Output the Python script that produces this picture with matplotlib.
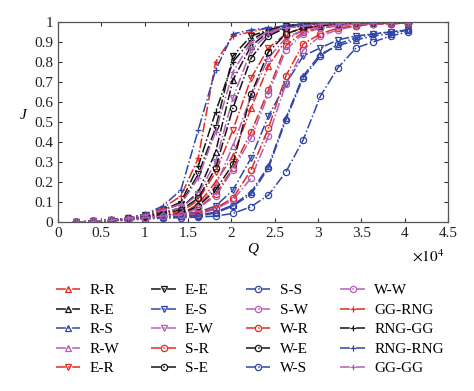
import numpy as np
import matplotlib
matplotlib.use("Agg")
import matplotlib.pyplot as plt
from matplotlib.ticker import FuncFormatter, MultipleLocator

plt.rcParams["font.family"] = ["Liberation Serif", "DejaVu Serif"]
plt.rcParams["mathtext.fontset"] = "stix"

# Q values (x axis), in units of 1e4 on the axis
q = [2100, 4100, 6100, 8100, 10100, 12100, 14200, 16200, 18200, 20200,
     22300, 24300, 26300, 28300, 30300, 32300, 34400, 36400, 38400, 40400]

red = "#e42a1f"
black = "#151515"
blue = "#2f45a8"
purple = "#b15fba"

# J values per curve
r_r = [0, 0.003, 0.008, 0.015, 0.025, 0.035, 0.04, 0.09, 0.20, 0.33, 0.57, 0.78, 0.91, 0.96, 0.98, 0.99, 0.99, 0.995, 0.995, 0.995]
r_e = [0, 0.004, 0.01, 0.02, 0.035, 0.05, 0.07, 0.15, 0.35, 0.71, 0.88, 0.95, 0.97, 0.99, 0.99, 0.995, 0.995, 0.995, 0.995, 0.995]
r_s = [0, 0.003, 0.007, 0.012, 0.02, 0.025, 0.03, 0.035, 0.05, 0.085, 0.15, 0.28, 0.52, 0.73, 0.84, 0.88, 0.91, 0.93, 0.94, 0.96]
r_w = [0, 0.003, 0.008, 0.015, 0.025, 0.035, 0.04, 0.08, 0.18, 0.38, 0.63, 0.82, 0.92, 0.96, 0.98, 0.99, 0.99, 0.995, 0.995, 0.995]
e_r = [0, 0.004, 0.009, 0.017, 0.028, 0.04, 0.05, 0.11, 0.25, 0.46, 0.72, 0.87, 0.94, 0.97, 0.98, 0.99, 0.99, 0.995, 0.995, 0.995]
e_e = [0, 0.004, 0.01, 0.02, 0.035, 0.06, 0.09, 0.24, 0.47, 0.83, 0.93, 0.96, 0.98, 0.99, 0.99, 0.995, 0.995, 0.995, 0.995, 0.995]
e_s = [0, 0.003, 0.007, 0.013, 0.02, 0.03, 0.04, 0.05, 0.08, 0.16, 0.32, 0.53, 0.69, 0.83, 0.87, 0.91, 0.93, 0.94, 0.95, 0.96]
e_w = [0, 0.004, 0.01, 0.018, 0.03, 0.05, 0.07, 0.14, 0.30, 0.62, 0.86, 0.94, 0.97, 0.98, 0.99, 0.99, 0.995, 0.995, 0.995, 0.995]
s_r = [0, 0.003, 0.008, 0.014, 0.022, 0.03, 0.035, 0.07, 0.14, 0.27, 0.45, 0.66, 0.88, 0.95, 0.97, 0.98, 0.99, 0.99, 0.995, 0.995]
s_e = [0, 0.003, 0.008, 0.015, 0.025, 0.035, 0.04, 0.08, 0.16, 0.29, 0.64, 0.85, 0.94, 0.97, 0.98, 0.99, 0.99, 0.995, 0.995, 0.995]
s_s = [0, 0.002, 0.006, 0.01, 0.015, 0.02, 0.022, 0.025, 0.03, 0.043, 0.077, 0.135, 0.25, 0.41, 0.63, 0.77, 0.87, 0.90, 0.93, 0.95]
s_w = [0, 0.003, 0.007, 0.012, 0.02, 0.028, 0.035, 0.04, 0.065, 0.11, 0.22, 0.43, 0.69, 0.86, 0.93, 0.96, 0.98, 0.99, 0.99, 0.995]
w_r = [0, 0.003, 0.007, 0.012, 0.02, 0.03, 0.038, 0.045, 0.07, 0.12, 0.26, 0.47, 0.73, 0.89, 0.94, 0.97, 0.98, 0.99, 0.99, 0.995]
w_e = [0, 0.004, 0.01, 0.018, 0.03, 0.045, 0.06, 0.12, 0.27, 0.57, 0.82, 0.93, 0.97, 0.98, 0.99, 0.99, 0.995, 0.995, 0.995, 0.995]
w_s = [0, 0.003, 0.007, 0.012, 0.02, 0.025, 0.03, 0.03, 0.045, 0.08, 0.14, 0.27, 0.51, 0.72, 0.83, 0.89, 0.92, 0.94, 0.95, 0.96]
w_w = [0, 0.003, 0.008, 0.014, 0.022, 0.03, 0.035, 0.07, 0.13, 0.26, 0.42, 0.64, 0.86, 0.94, 0.97, 0.98, 0.99, 0.99, 0.995, 0.995]
gg_rng = [0, 0.004, 0.01, 0.02, 0.04, 0.07, 0.13, 0.32, 0.80, 0.93, 0.95, 0.97, 0.98, 0.99, 0.99, 0.995, 0.995, 0.995, 0.995, 0.995]
rng_gg = [0, 0.004, 0.01, 0.02, 0.035, 0.06, 0.10, 0.28, 0.55, 0.80, 0.91, 0.96, 0.98, 0.99, 0.99, 0.995, 0.995, 0.995, 0.995, 0.995]
rng_rng = [0, 0.004, 0.01, 0.02, 0.04, 0.08, 0.16, 0.46, 0.76, 0.94, 0.96, 0.97, 0.98, 0.99, 0.99, 0.995, 0.995, 0.995, 0.995, 0.995]
gg_gg = [0, 0.004, 0.01, 0.02, 0.035, 0.06, 0.09, 0.22, 0.45, 0.75, 0.90, 0.95, 0.97, 0.98, 0.99, 0.99, 0.995, 0.995, 0.995, 0.995]

curves = [
    ("R-R", r_r, red, "^"), ("R-E", r_e, black, "^"), ("R-S", r_s, blue, "^"),
    ("R-W", r_w, purple, "^"), ("E-R", e_r, red, "v"),
    ("E-E", e_e, black, "v"), ("E-S", e_s, blue, "v"), ("E-W", e_w, purple, "v"),
    ("S-R", s_r, red, "o"), ("S-E", s_e, black, "o"),
    ("S-S", s_s, blue, "o"), ("S-W", s_w, purple, "o"), ("W-R", w_r, red, "o"),
    ("W-E", w_e, black, "o"), ("W-S", w_s, blue, "o"),
    ("W-W", w_w, purple, "o"), ("GG-RNG", gg_rng, red, "+"), ("RNG-GG", rng_gg, black, "+"),
    ("RNG-RNG", rng_rng, blue, "+"), ("GG-GG", gg_gg, purple, "+"),
]

fig = plt.figure(figsize=(4.74, 3.91), dpi=100)
ax = fig.add_axes([0.122, 0.432, 0.823, 0.512])

x = np.array(q) / 1e4
for name, y, c, m in curves:
    ax.plot(x, y, linestyle="-.", color=c, marker=m, markersize=4.5,
            markerfacecolor="none", markeredgewidth=0.9, linewidth=1.1, label=name)

ax.set_xlim(0, 4.5)
ax.set_ylim(0, 1)
ax.xaxis.set_major_locator(MultipleLocator(0.5))
ax.yaxis.set_major_locator(MultipleLocator(0.1))
ax.xaxis.set_major_formatter(FuncFormatter(lambda v, p: "%g" % round(v, 2)))
ax.yaxis.set_major_formatter(FuncFormatter(lambda v, p: "%g" % round(v, 2)))
ax.tick_params(direction="in", top=True, right=True, labelsize=11, length=3, width=0.8, colors="#333333")
ax.tick_params(labelcolor="#222222")
for s in ax.spines.values():
    s.set_color("#555555")
    s.set_linewidth(0.9)

ax.set_xlabel("Q", fontstyle="italic", fontsize=11, labelpad=2)
ax.set_ylabel("J", fontstyle="italic", fontsize=11, rotation=0, labelpad=8)
ax.text(0.95, -0.13, r"$\times10^4$", transform=ax.transAxes, ha="center", va="top", fontsize=11)

fig.legend(loc="upper left", bbox_to_anchor=(0.105, 0.29), ncol=4, frameon=False,
           fontsize=11, handlelength=1.6, handletextpad=0.6, columnspacing=2.1,
           labelspacing=0.38, borderaxespad=0)

fig.savefig("out.png", dpi=100)
